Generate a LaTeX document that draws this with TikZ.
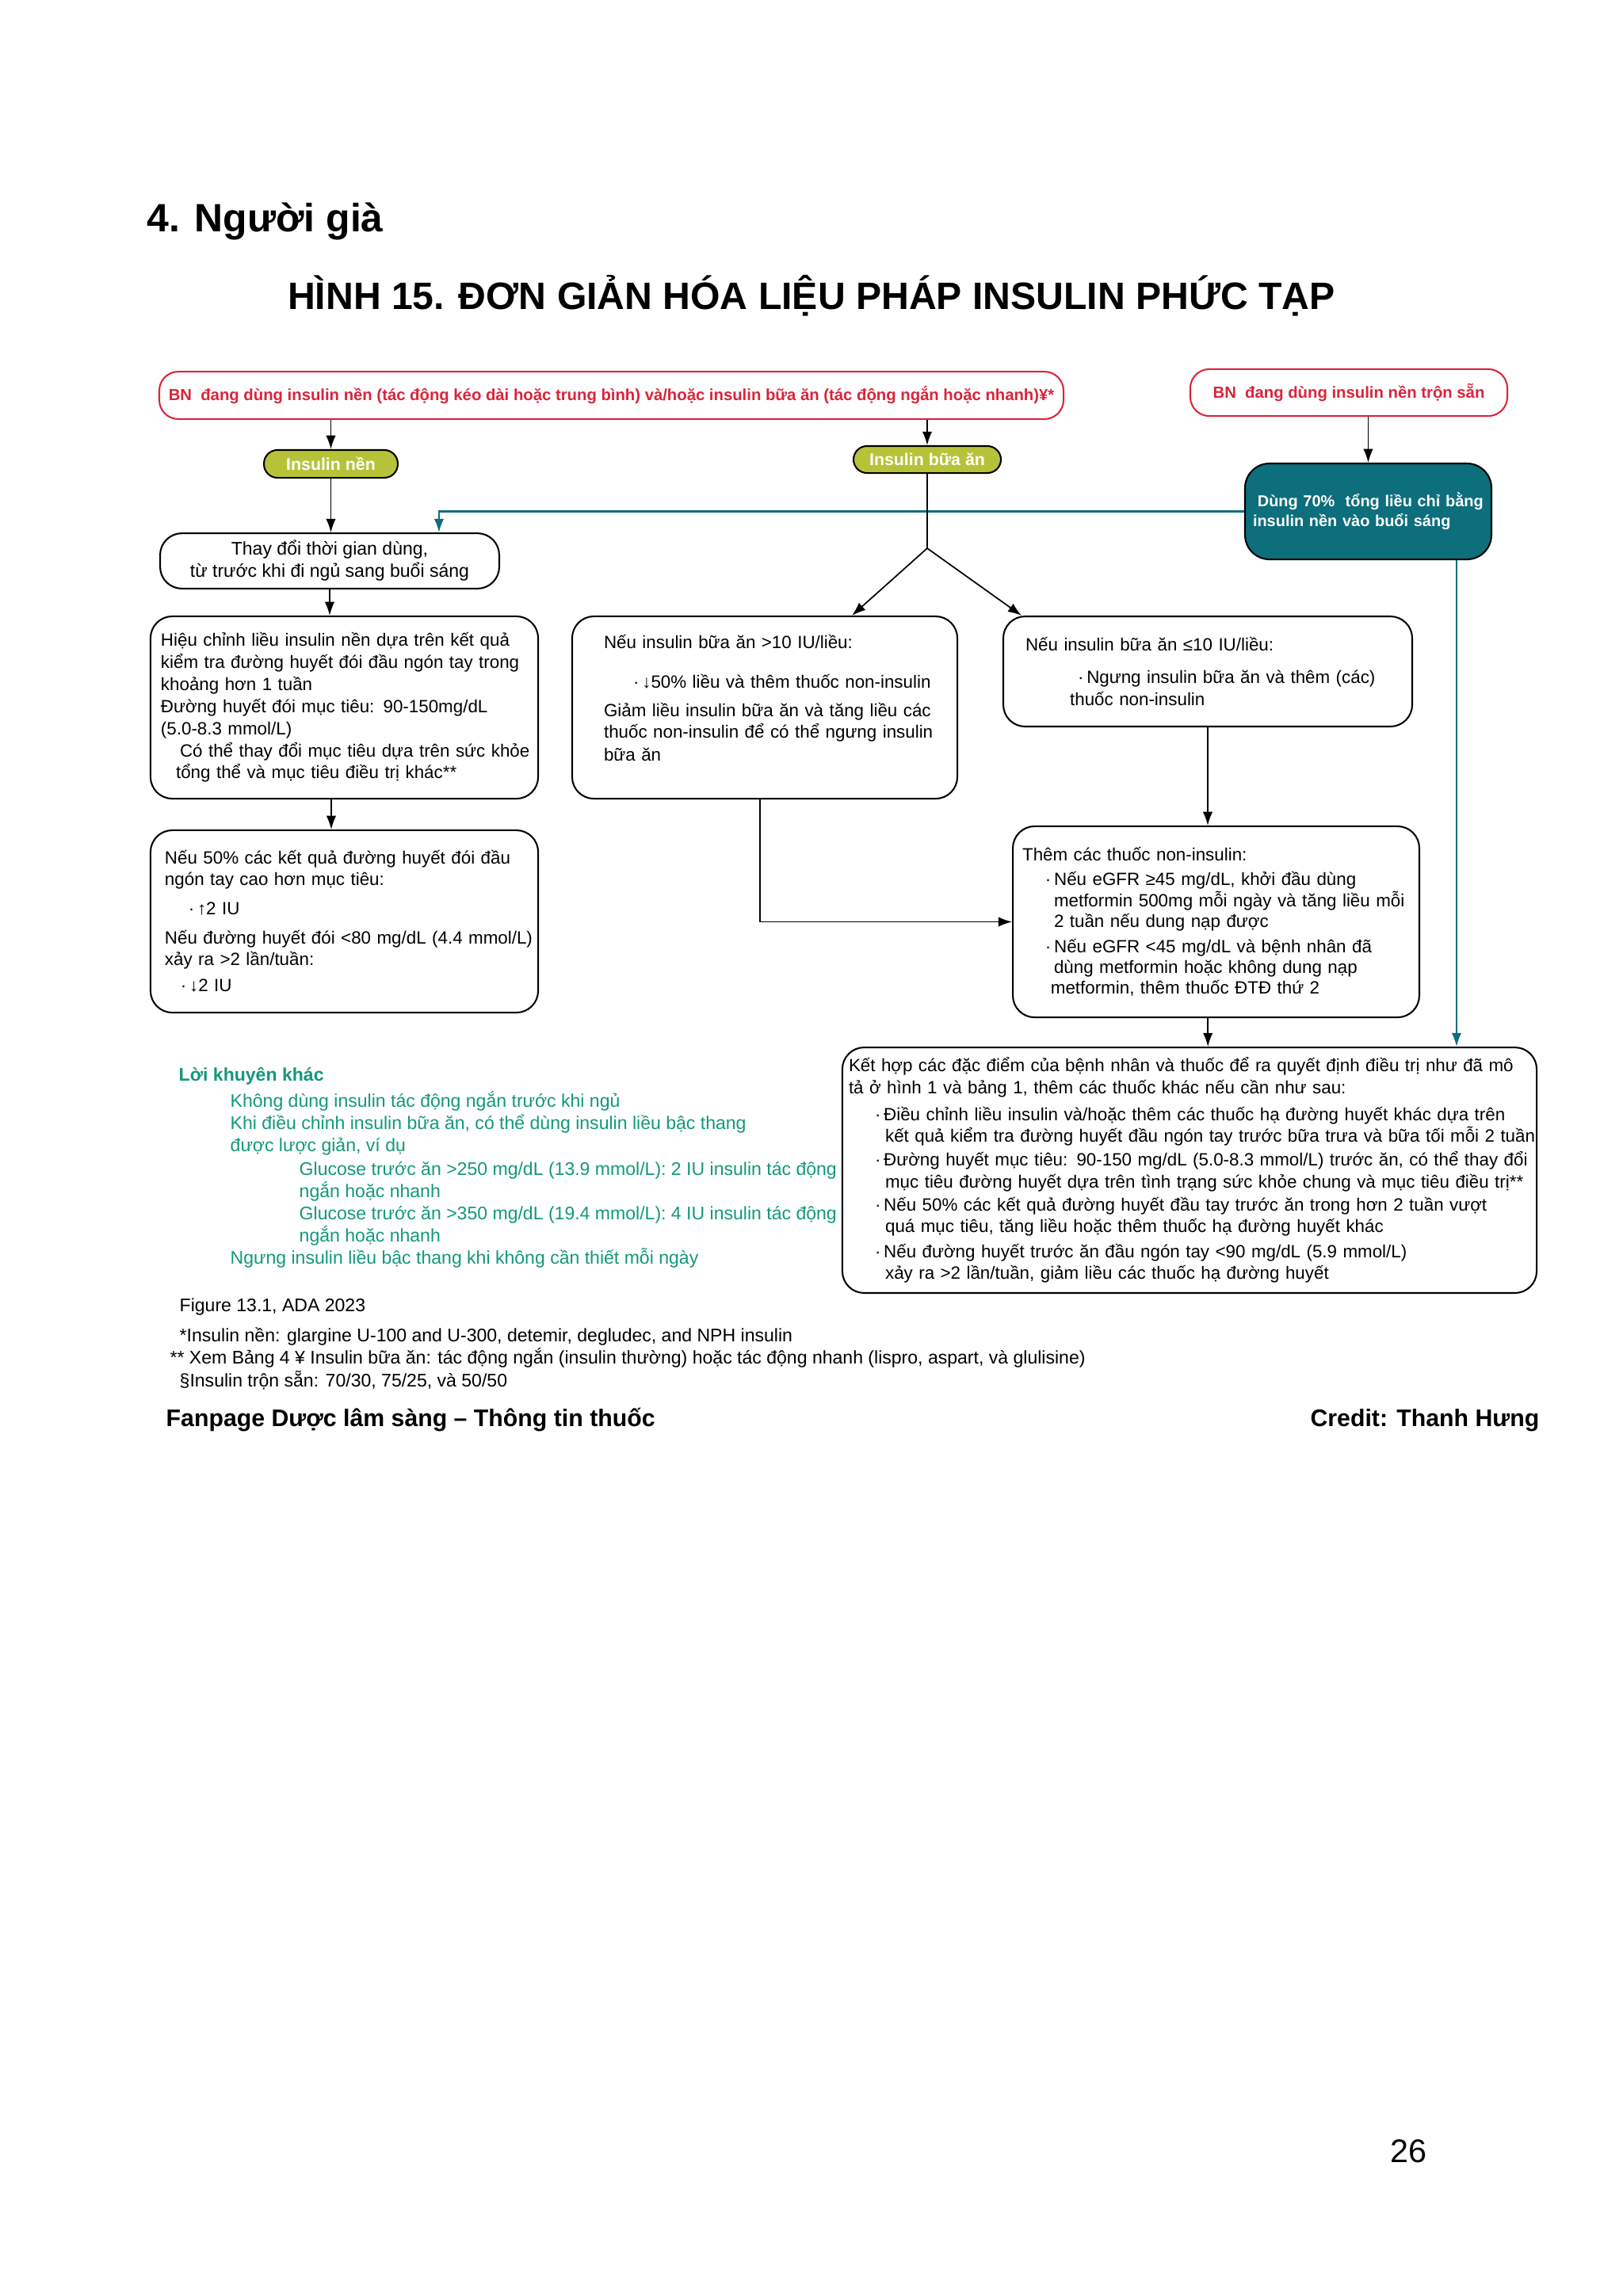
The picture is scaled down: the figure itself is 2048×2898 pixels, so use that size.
\documentclass[tikz,border=0pt]{standalone}
\usepackage{fontspec}
\setmainfont{Liberation Sans}
\usepackage{tikz}
\usetikzlibrary{arrows.meta}
\definecolor{redline}{HTML}{D9243A}
\definecolor{olive}{HTML}{B6C338}
\definecolor{tealbox}{HTML}{0D6E7C}
\definecolor{advice}{HTML}{13987B}
\tikzset{
  flow/.style={rectangle,rounded corners=8pt,draw=black,line width=0.6pt,fill=white,
    font=\fontsize{6.5}{7.9}\selectfont,inner sep=0pt},
  start/.style={rectangle,rounded corners=7pt,draw=redline,line width=0.6pt,text=redline,
    font=\bfseries\fontsize{5.9}{7}\selectfont,inner sep=1pt,align=center},
  pill/.style={rectangle,rounded corners=5pt,draw=black,line width=0.6pt,fill=olive,
    text=white,font=\bfseries\fontsize{6.2}{7}\selectfont,inner sep=1pt},
  dose/.style={rectangle,rounded corners=9pt,draw=black,line width=0.6pt,fill=tealbox,
    text=white,font=\bfseries\fontsize{5.8}{7.3}\selectfont,align=left,inner sep=0pt},
  note/.style={font=\fontsize{6.7}{8.2}\selectfont,align=left,inner sep=0pt},
  link/.style={line width=0.5pt,draw=black},
  arrow/.style={-{Latex[length=5pt,width=3.6pt]},line width=0.5pt,draw=black},
  tarrow/.style={-{Latex[length=5pt,width=3.6pt]},line width=0.6pt,draw=tealbox}
}
\begin{document}
\begin{tikzpicture}[x=0.2907pt,y=-0.2907pt]
\useasboundingbox (0,0) rectangle (2048,2898);
\node[anchor=base west,inner sep=0pt,font=\bfseries\fontsize{14.5}{17}\selectfont] (sect) at (185,292) {4. Người già};
\node[anchor=base,inner sep=0pt,font=\bfseries\fontsize{14}{17}\selectfont] (title) at (1024,390) {HÌNH 15. ĐƠN GIẢN HÓA LIỆU PHÁP INSULIN PHỨC TẠP};

\node[start,minimum width=331.7pt,minimum height=17.4pt] (red1) at (771.5,499) {BN\ \ đang dùng insulin nền (tác động kéo dài hoặc trung bình) và/hoặc insulin bữa ăn (tác động ngắn hoặc nhanh)¥*};
\node[start,minimum width=116.3pt,minimum height=17.2pt] (red2) at (1702,495.5) {BN\ \ đang dùng insulin nền trộn sẵn};
\node[pill,minimum width=49.1pt,minimum height=10.2pt] (basal) at (417.5,585.5) {Insulin nền};
\node[pill,minimum width=54.1pt,minimum height=9.9pt] (meal) at (1170,580) {Insulin bữa ăn};
\node[dose,minimum width=90.4pt,minimum height=35.2pt,text width=84.6pt] (seventy) at (1726.5,645.5) {\leftskip=1.7pt \mbox{Dùng 70\%\ \ tổng liều chỉ bằng}\\insulin nền vào buổi sáng};
\node[flow,align=center,minimum width=124.4pt,minimum height=20.3pt,font=\fontsize{6.7}{8.1}\selectfont] (shift) at (416,708) {Thay đổi thời gian dùng,\\từ trước khi đi ngủ sang buổi sáng};

\node[flow,align=left,minimum width=142.2pt,minimum height=66.9pt,text width=137.5pt,font=\fontsize{6.5}{8.1}\selectfont] (titrate) at (434.5,893) {\leftskip=1.45pt \mbox{Hiệu chỉnh liều insulin nền dựa trên kết quả}\\ \mbox{kiểm tra đường huyết đói đầu ngón tay trong}\\ khoảng hơn 1 tuần\\ Đường huyết đói mục tiêu: 90-150mg/dL\\ (5.0-8.3 mmol/L)\\ \hspace*{7pt}\mbox{Có thể thay đổi mục tiêu dựa trên sức khỏe}\\ \hspace*{7pt}tổng thể và mục tiêu điều trị khác**};
\node[flow,align=left,minimum width=141.3pt,minimum height=66.9pt,text width=136.6pt] (high) at (965,893) {\leftskip=9.3pt Nếu insulin bữa ăn >10 IU/liều:\\[6.4pt] \hspace*{10.8pt}·\,↓50\% liều và thêm thuốc non-insulin\\[2.6pt] Giảm liều insulin bữa ăn và tăng liều các\\ \mbox{thuốc non-insulin để có thể ngưng insulin}\\[0.6pt] bữa ăn\\[-1pt]\mbox{}};
\node[flow,align=left,minimum width=150pt,minimum height=40.4pt,text width=145.3pt] (low) at (1524,847.5) {\leftskip=5.8pt Nếu insulin bữa ăn ≤10 IU/liều:\\[4pt] \hspace*{19.2pt}·\,Ngưng insulin bữa ăn và thêm (các)\\ \hspace*{22.1pt}thuốc non-insulin};

\node[flow,align=left,minimum width=142.2pt,minimum height=66.9pt,text width=137.5pt] (fasting) at (434.5,1163) {\leftskip=2.9pt Nếu 50\% các kết quả đường huyết đói đầu\\ ngón tay cao hơn mục tiêu:\\[2.9pt] \hspace*{8.7pt}·\,↑2 IU\\[2.7pt] \mbox{Nếu đường huyết đói <80 mg/dL (4.4 mmol/L)}\\ xảy\ ra >2 lần/tuần:\\[1.8pt] \hspace*{8.7pt}·\,↓2 IU};
\node[flow,align=left,minimum width=149.1pt,minimum height=70.1pt,text width=144.5pt,font=\fontsize{6.5}{7.6}\selectfont] (addon) at (1534.5,1163.5) {\leftskip=1.2pt Thêm các thuốc non-insulin:\\[1.5pt] \hspace*{8.4pt}·\,Nếu eGFR ≥45 mg/dL, khởi đầu dùng\\ \hspace*{11.6pt}\mbox{metformin 500mg mỗi ngày và tăng liều mỗi}\\ \hspace*{11.6pt}2 tuần nếu dung nạp được\\[1.8pt] \hspace*{8.4pt}·\,Nếu eGFR <45 mg/dL và bệnh nhân đã\\ \hspace*{11.6pt}dùng metformin hoặc không dung nạp\\ \hspace*{11.6pt}metformin, thêm thuốc ĐTĐ thứ 2};

\node[flow,align=left,minimum width=254.7pt,minimum height=90.1pt,text width=250pt] (combine) at (1501,1477) {\mbox{Kết hợp các đặc điểm của bệnh nhân và thuốc để ra quyết định điều trị như đã mô}\\ tả ở hình 1 và bảng 1, thêm các thuốc khác nếu cần như sau:\\[2pt] \hspace*{9.6pt}\mbox{·\,Điều chỉnh liều insulin và/hoặc thêm các thuốc hạ đường huyết khác dựa trên}\\ \hspace*{13.4pt}\mbox{kết quả kiểm tra đường huyết đầu ngón tay trước bữa trưa và bữa tối mỗi 2 tuần}\\[1pt] \hspace*{9.6pt}\mbox{·\,Đường huyết mục tiêu: 90-150 mg/dL (5.0-8.3 mmol/L) trước ăn, có thể thay đổi}\\ \hspace*{13.4pt}\mbox{mục tiêu đường huyết dựa trên tình trạng sức khỏe chung và mục tiêu điều trị**}\\[0.6pt] \hspace*{9.6pt}\mbox{·\,Nếu 50\% các kết quả đường huyết đầu tay trước ăn trong hơn 2 tuần vượt}\\ \hspace*{13.4pt}quá mục tiêu, tăng liều hoặc thêm thuốc hạ đường huyết khác\\[1.4pt] \hspace*{9.6pt}·\,Nếu đường huyết trước ăn đầu ngón tay <90 mg/dL (5.9 mmol/L)\\ \hspace*{13.4pt}xảy\ ra >2 lần/tuần, giảm liều các thuốc hạ đường huyết};

\node[note,text=advice,font=\fontsize{6.7}{8.1}\selectfont,anchor=base west] (tips) at (225,1595) {\textbf{Lời khuyên khác}\\[1.7pt] \hspace*{18.9pt}Không dùng insulin tác động ngắn trước khi ngủ\\ \hspace*{18.9pt}Khi điều chỉnh insulin bữa ăn, có thể dùng insulin liều bậc thang\\ \hspace*{18.9pt}được lược giản, ví dụ\\[0.6pt] \hspace*{44.2pt}Glucose trước ăn >250 mg/dL (13.9 mmol/L): 2 IU insulin tác động\\ \hspace*{44.2pt}ngắn hoặc nhanh\\ \hspace*{44.2pt}Glucose trước ăn >350 mg/dL (19.4 mmol/L): 4 IU insulin tác động\\ \hspace*{44.2pt}ngắn hoặc nhanh\\ \hspace*{18.9pt}Ngưng insulin liều bậc thang khi không cần thiết mỗi ngày};

\node[note,anchor=base west] (source) at (226,1750) {Figure 13.1, ADA 2023\\[2.8pt] *Insulin nền: glargine U-100 and U-300, detemir, degludec, and NPH insulin\\ \hspace*{-3.5pt}** Xem Bảng 4 ¥ Insulin bữa ăn: tác động ngắn (insulin thường) hoặc tác động nhanh (lispro, aspart, và glulisine)\\ §Insulin trộn sẵn: 70/30, 75/25, và 50/50};
\node[anchor=base west,inner sep=0pt,font=\bfseries\fontsize{8.8}{10}\selectfont] (fanpage) at (209,1800) {Fanpage Dược lâm sàng – Thông tin thuốc};
\node[anchor=base east,inner sep=0pt,font=\bfseries\fontsize{8.8}{10}\selectfont] (credit) at (1943,1800) {Credit: Thanh Hưng};
\node[anchor=base,inner sep=0pt,font=\fontsize{12}{14}\selectfont] (page) at (1777,2729) {26};

\coordinate (fork) at (1170,692);
\draw[arrow] (basal.north |- red1.south) -- (basal.north);
\draw[arrow] (meal.north |- red1.south) -- (meal.north);
\draw[arrow] (seventy.north |- red2.south) -- (seventy.north);
\draw[arrow] (basal.south) -- (basal.south |- shift.north);
\draw[tarrow] (seventy.west) -| ([xshift=40.1pt]shift.north);
\draw[link] (meal.south) -- (fork);
\draw[arrow] (fork) -- ([xshift=32pt]high.north);
\draw[arrow] (fork) -- ([xshift=-68.3pt]low.north);
\draw[arrow] (shift.south) -- (shift.south |- titrate.north);
\draw[arrow] ([xshift=-4.8pt]titrate.south) -- ([xshift=-4.8pt]fasting.north);
\draw[arrow] ([xshift=-1.7pt]high.south) |- (addon.west);
\draw[arrow] (low.south) -- (low.south |- addon.north);
\draw[arrow] ([xshift=-3pt]addon.south) -- ([xshift=-3pt]addon.south |- combine.north);
\draw[tarrow] ([xshift=32.4pt]seventy.south) -- ([xshift=32.4pt]seventy.south |- combine.north);
\end{tikzpicture}
\end{document}
